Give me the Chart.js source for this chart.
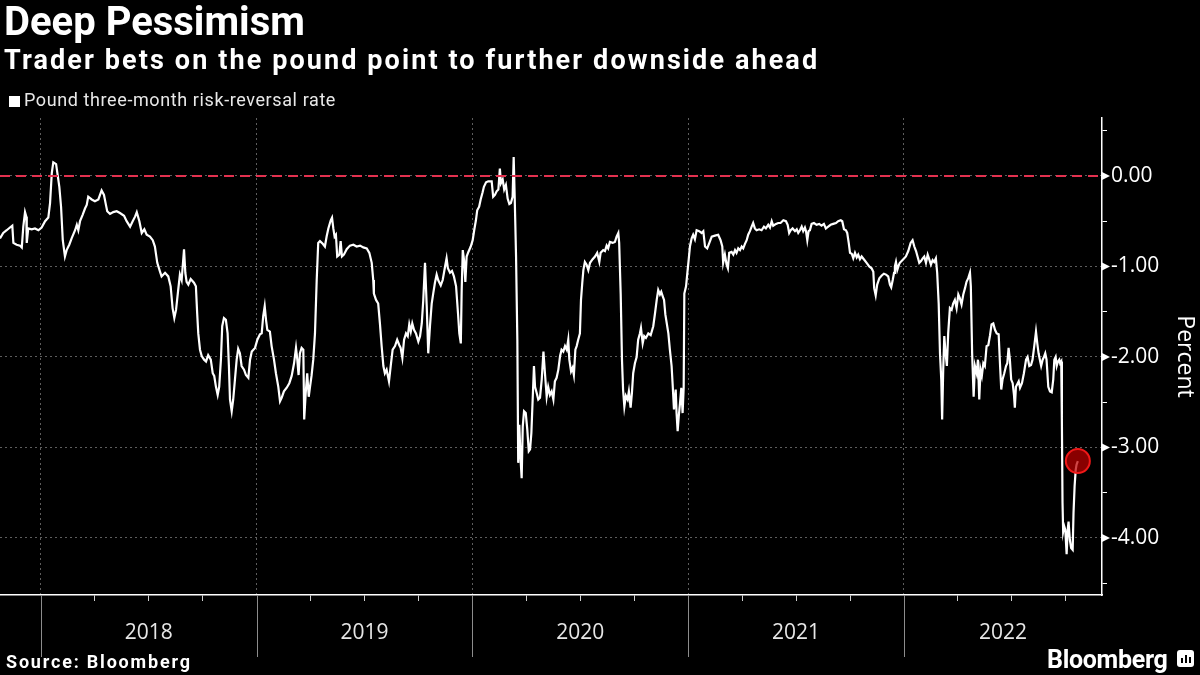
<!DOCTYPE html>
<html>
<head>
<meta charset="utf-8">
<script src="https://cdn.jsdelivr.net/npm/chart.js@4.4.1/dist/chart.umd.min.js"></script>
<style>
  html, body { margin: 0; padding: 0; background: #000; }
  #wrap { position: relative; width: 1200px; height: 675px; overflow: hidden; background: #000; font-family: Roboto, "Open Sans", sans-serif; color: #fff; }
  #chart { position: absolute; left: 0; top: 0; }
  .txt { position: absolute; white-space: nowrap; }
  #title { left: 4px; top: 2px; font-size: 40px; line-height: 40px; font-weight: 700; }
  #subtitle { left: 4px; top: 47px; font-size: 27px; line-height: 27px; font-weight: 700; letter-spacing: 2.1px; }
  #legend { left: 9px; top: 91px; font-size: 18px; line-height: 18px; color: #e8e8e8; letter-spacing: 0.6px; }
  #legend span.sw { display: inline-block; width: 11px; height: 11px; background: #fff; margin-right: 4px; vertical-align: -1px; }
  #source { left: 6px; top: 653px; font-size: 18px; line-height: 18px; font-weight: 700; letter-spacing: 1.8px; }
  #brand { left: 1047px; top: 647px; font-size: 25px; line-height: 25px; font-weight: 700; letter-spacing: -0.3px; }
  #icon { position: absolute; left: 1177px; top: 650px; width: 17px; height: 17px; background: #fff; border-radius: 3px; }
  #icon i { position: absolute; bottom: 4px; width: 2px; background: #000; }
</style>
</head>
<body>
<div id="wrap">
  <canvas id="chart" width="1200" height="675"></canvas>
  <div class="txt" id="title">Deep Pessimism</div>
  <div class="txt" id="subtitle">Trader bets on the pound point to further downside ahead</div>
  <div class="txt" id="legend"><span class="sw"></span>Pound three-month risk-reversal rate</div>
  <div class="txt" id="source">Source: Bloomberg</div>
  <div class="txt" id="brand">Bloomberg</div>
  <div id="icon"><i style="left:4px;height:5px"></i><i style="left:8px;height:8px"></i><i style="left:12px;height:6px"></i></div>
</div>
<script>
// time as decimal years, values in percent
const years = [
  2017.810, 2017.825, 2017.841, 2017.856, 2017.867, 2017.872, 2017.887, 2017.903, 2017.911, 2017.918,
  2017.926, 2017.932, 2017.934, 2017.941, 2017.957, 2017.972, 2017.988, 2018.003, 2018.019, 2018.034,
  2018.042, 2018.050, 2018.057, 2018.070, 2018.076, 2018.085, 2018.093, 2018.101, 2018.111, 2018.119,
  2018.131, 2018.142, 2018.158, 2018.166, 2018.173, 2018.181, 2018.193, 2018.204, 2018.212, 2018.219,
  2018.235, 2018.250, 2018.266, 2018.281, 2018.292, 2018.301, 2018.307, 2018.320, 2018.335, 2018.351,
  2018.366, 2018.385, 2018.397, 2018.413, 2018.425, 2018.436, 2018.444, 2018.456, 2018.467, 2018.479,
  2018.490, 2018.505, 2018.518, 2018.528, 2018.539, 2018.552, 2018.559, 2018.575, 2018.590, 2018.601,
  2018.610, 2018.618, 2018.626, 2018.636, 2018.644, 2018.652, 2018.663, 2018.669, 2018.675, 2018.683,
  2018.694, 2018.709, 2018.718, 2018.724, 2018.729, 2018.737, 2018.745, 2018.756, 2018.765, 2018.775,
  2018.787, 2018.796, 2018.803, 2018.811, 2018.819, 2018.826, 2018.834, 2018.840, 2018.848, 2018.857,
  2018.865, 2018.871, 2018.876, 2018.884, 2018.891, 2018.899, 2018.907, 2018.914, 2018.922, 2018.930,
  2018.941, 2018.950, 2018.961, 2018.969, 2018.977, 2018.992, 2019.003, 2019.015, 2019.023, 2019.030,
  2019.037, 2019.043, 2019.049, 2019.061, 2019.069, 2019.080, 2019.089, 2019.100, 2019.108, 2019.116,
  2019.126, 2019.139, 2019.151, 2019.162, 2019.173, 2019.182, 2019.188, 2019.194, 2019.200, 2019.208,
  2019.216, 2019.220, 2019.227, 2019.234, 2019.241, 2019.247, 2019.254, 2019.262, 2019.270, 2019.278,
  2019.285, 2019.293, 2019.306, 2019.316, 2019.324, 2019.332, 2019.343, 2019.349, 2019.355, 2019.361,
  2019.367, 2019.373, 2019.383, 2019.389, 2019.395, 2019.404, 2019.417, 2019.432, 2019.448, 2019.463,
  2019.479, 2019.494, 2019.510, 2019.522, 2019.533, 2019.540, 2019.543, 2019.553, 2019.563, 2019.571,
  2019.579, 2019.587, 2019.594, 2019.602, 2019.613, 2019.621, 2019.630, 2019.641, 2019.651, 2019.661,
  2019.667, 2019.675, 2019.683, 2019.692, 2019.700, 2019.707, 2019.714, 2019.721, 2019.729, 2019.738,
  2019.749, 2019.757, 2019.765, 2019.772, 2019.780, 2019.788, 2019.795, 2019.803, 2019.811, 2019.818,
  2019.826, 2019.834, 2019.841, 2019.853, 2019.862, 2019.873, 2019.880, 2019.886, 2019.896, 2019.905,
  2019.914, 2019.924, 2019.933, 2019.939, 2019.946, 2019.950, 2019.955, 2019.961, 2019.967, 2019.973,
  2019.981, 2019.992, 2020.001, 2020.008, 2020.016, 2020.022, 2020.031, 2020.038, 2020.047, 2020.053,
  2020.063, 2020.073, 2020.089, 2020.096, 2020.104, 2020.112, 2020.120, 2020.127, 2020.132, 2020.140,
  2020.147, 2020.155, 2020.163, 2020.171, 2020.178, 2020.186, 2020.191, 2020.196, 2020.202, 2020.208,
  2020.212, 2020.217, 2020.223, 2020.228, 2020.233, 2020.239, 2020.247, 2020.254, 2020.261, 2020.267,
  2020.273, 2020.279, 2020.285, 2020.290, 2020.298, 2020.305, 2020.313, 2020.321, 2020.329, 2020.336,
  2020.344, 2020.351, 2020.359, 2020.367, 2020.375, 2020.382, 2020.390, 2020.398, 2020.406, 2020.413,
  2020.421, 2020.429, 2020.437, 2020.444, 2020.449, 2020.457, 2020.464, 2020.470, 2020.477, 2020.483,
  2020.490, 2020.498, 2020.503, 2020.509, 2020.514, 2020.521, 2020.529, 2020.537, 2020.545, 2020.557,
  2020.568, 2020.578, 2020.588, 2020.594, 2020.606, 2020.614, 2020.622, 2020.629, 2020.637, 2020.650,
  2020.660, 2020.668, 2020.676, 2020.680, 2020.687, 2020.693, 2020.698, 2020.704, 2020.711, 2020.719,
  2020.725, 2020.733, 2020.739, 2020.745, 2020.753, 2020.761, 2020.768, 2020.776, 2020.781, 2020.789,
  2020.796, 2020.804, 2020.815, 2020.826, 2020.838, 2020.846, 2020.854, 2020.861, 2020.869, 2020.875,
  2020.882, 2020.888, 2020.894, 2020.908, 2020.915, 2020.923, 2020.928, 2020.934, 2020.942, 2020.946,
  2020.951, 2020.956, 2020.962, 2020.968, 2020.974, 2020.979, 2020.982, 2020.990, 2020.996, 2021.002,
  2021.008, 2021.016, 2021.023, 2021.031, 2021.039, 2021.051, 2021.062, 2021.070, 2021.078, 2021.088,
  2021.098, 2021.109, 2021.124, 2021.139, 2021.150, 2021.158, 2021.162, 2021.170, 2021.178, 2021.184,
  2021.190, 2021.201, 2021.209, 2021.217, 2021.224, 2021.232, 2021.240, 2021.248, 2021.255, 2021.263,
  2021.271, 2021.278, 2021.286, 2021.294, 2021.301, 2021.309, 2021.317, 2021.329, 2021.340, 2021.351,
  2021.360, 2021.371, 2021.379, 2021.387, 2021.394, 2021.407, 2021.417, 2021.428, 2021.441, 2021.453,
  2021.461, 2021.468, 2021.475, 2021.484, 2021.495, 2021.503, 2021.510, 2021.518, 2021.526, 2021.533,
  2021.541, 2021.546, 2021.552, 2021.558, 2021.564, 2021.572, 2021.583, 2021.595, 2021.607, 2021.618,
  2021.629, 2021.638, 2021.649, 2021.660, 2021.672, 2021.685, 2021.695, 2021.707, 2021.714, 2021.722,
  2021.731, 2021.737, 2021.744, 2021.750, 2021.758, 2021.765, 2021.773, 2021.781, 2021.788, 2021.796,
  2021.804, 2021.814, 2021.827, 2021.839, 2021.850, 2021.858, 2021.862, 2021.869, 2021.876, 2021.886,
  2021.897, 2021.907, 2021.917, 2021.927, 2021.935, 2021.941, 2021.948, 2021.954, 2021.958, 2021.963,
  2021.969, 2021.977, 2021.981, 2021.997, 2022.009, 2022.020, 2022.031, 2022.040, 2022.048, 2022.056,
  2022.063, 2022.071, 2022.079, 2022.087, 2022.094, 2022.102, 2022.110, 2022.117, 2022.125, 2022.133,
  2022.140, 2022.148, 2022.154, 2022.161, 2022.167, 2022.173, 2022.177, 2022.182, 2022.187, 2022.193,
  2022.199, 2022.205, 2022.213, 2022.221, 2022.228, 2022.236, 2022.244, 2022.252, 2022.259, 2022.267,
  2022.275, 2022.283, 2022.290, 2022.298, 2022.306, 2022.310, 2022.316, 2022.323, 2022.329, 2022.337,
  2022.343, 2022.349, 2022.355, 2022.361, 2022.368, 2022.375, 2022.383, 2022.391, 2022.399, 2022.406,
  2022.414, 2022.422, 2022.430, 2022.439, 2022.445, 2022.451, 2022.457, 2022.465, 2022.473, 2022.479,
  2022.485, 2022.491, 2022.497, 2022.504, 2022.510, 2022.514, 2022.519, 2022.532, 2022.538, 2022.547,
  2022.556, 2022.566, 2022.573, 2022.581, 2022.589, 2022.596, 2022.604, 2022.612, 2022.618, 2022.624,
  2022.630, 2022.636, 2022.643, 2022.649, 2022.655, 2022.661, 2022.669, 2022.677, 2022.685, 2022.692,
  2022.697, 2022.703, 2022.708, 2022.714, 2022.720, 2022.724, 2022.729, 2022.732, 2022.735, 2022.738,
  2022.743, 2022.748, 2022.754, 2022.759, 2022.763, 2022.769, 2022.775, 2022.782, 2022.786, 2022.791,
  2022.796, 2022.800, 2022.806
];

const riskReversal = [
  -0.69, -0.63, -0.60, -0.57, -0.55, -0.74, -0.76, -0.77, -0.79, -0.56,
  -0.40, -0.45, -0.74, -0.58, -0.59, -0.58, -0.60, -0.57, -0.50, -0.46,
  -0.30, 0.03, 0.15, 0.13, 0.03, -0.12, -0.34, -0.71, -0.89, -0.82,
  -0.76, -0.69, -0.60, -0.54, -0.60, -0.50, -0.43, -0.36, -0.32, -0.23,
  -0.26, -0.28, -0.26, -0.16, -0.21, -0.32, -0.39, -0.42, -0.40, -0.39,
  -0.41, -0.44, -0.50, -0.56, -0.50, -0.45, -0.40, -0.50, -0.63, -0.59,
  -0.65, -0.67, -0.71, -0.78, -0.96, -1.06, -1.11, -1.07, -1.11, -1.22,
  -1.46, -1.57, -1.48, -1.26, -1.09, -1.15, -0.81, -1.07, -1.17, -1.20,
  -1.14, -1.18, -1.22, -1.52, -1.74, -1.92, -1.99, -2.03, -2.05, -1.98,
  -2.03, -2.18, -2.21, -2.33, -2.42, -2.33, -2.03, -1.66, -1.57, -1.59,
  -1.74, -2.10, -2.47, -2.60, -2.47, -2.25, -2.03, -1.91, -1.96, -2.10,
  -2.14, -2.20, -2.23, -2.03, -1.94, -1.90, -1.81, -1.75, -1.74, -1.55,
  -1.44, -1.59, -1.70, -1.72, -1.88, -2.03, -2.18, -2.33, -2.49, -2.45,
  -2.38, -2.34, -2.29, -2.21, -2.07, -1.90, -2.03, -2.20, -1.96, -1.90,
  -1.92, -2.69, -2.40, -2.18, -2.44, -2.33, -2.21, -2.03, -1.74, -1.15,
  -0.74, -0.72, -0.75, -0.78, -0.67, -0.58, -0.49, -0.46, -0.58, -0.67,
  -0.65, -0.89, -0.87, -0.72, -0.89, -0.87, -0.81, -0.77, -0.76, -0.78,
  -0.77, -0.79, -0.80, -0.85, -0.96, -1.15, -1.30, -1.37, -1.41, -1.63,
  -1.88, -2.10, -2.18, -2.14, -2.27, -2.10, -1.92, -1.88, -1.81, -1.87,
  -1.90, -2.01, -1.81, -1.74, -1.77, -1.64, -1.72, -1.63, -1.70, -1.74,
  -1.83, -1.77, -1.63, -1.37, -0.96, -1.44, -1.96, -1.66, -1.41, -1.30,
  -1.18, -1.09, -1.15, -1.21, -1.15, -1.00, -0.91, -1.02, -1.07, -1.05,
  -1.11, -1.22, -1.52, -1.74, -1.85, -1.26, -0.82, -0.93, -1.17, -0.89,
  -0.84, -0.78, -0.71, -0.60, -0.49, -0.38, -0.34, -0.26, -0.18, -0.12,
  -0.07, -0.06, -0.06, -0.23, -0.21, -0.17, -0.15, 0.08, -0.08, -0.04,
  -0.15, -0.10, -0.25, -0.31, -0.30, -0.23, 0.21, -0.26, -0.89, -1.81,
  -3.17, -2.75, -3.13, -3.34, -2.77, -2.60, -2.62, -2.80, -3.04, -3.02,
  -2.84, -2.47, -2.10, -2.33, -2.40, -2.47, -2.45, -2.25, -1.94, -2.18,
  -2.44, -2.33, -2.42, -2.38, -2.47, -2.27, -2.23, -2.14, -1.99, -1.92,
  -1.94, -1.88, -1.92, -1.81, -2.03, -2.16, -2.12, -2.20, -1.92, -1.88,
  -1.81, -1.74, -1.37, -1.18, -1.04, -0.95, -0.98, -1.04, -0.96, -0.92,
  -0.89, -0.85, -0.95, -0.85, -0.82, -0.83, -0.77, -0.80, -0.73, -0.74,
  -0.73, -0.67, -0.63, -0.74, -1.30, -2.03, -2.36, -2.55, -2.43, -2.47,
  -2.38, -2.56, -2.40, -2.18, -2.07, -2.00, -1.81, -1.74, -1.68, -1.85,
  -1.77, -1.79, -1.74, -1.76, -1.66, -1.52, -1.37, -1.26, -1.31, -1.28,
  -1.33, -1.37, -1.53, -1.74, -1.92, -2.10, -2.31, -2.58, -2.36, -2.62,
  -2.82, -2.66, -2.51, -2.34, -2.62, -2.34, -1.30, -1.22, -1.07, -0.93,
  -0.78, -0.69, -0.65, -0.70, -0.60, -0.61, -0.63, -0.61, -0.78, -0.80,
  -0.74, -0.67, -0.66, -0.65, -0.71, -0.78, -0.96, -0.87, -0.98, -1.02,
  -0.85, -0.84, -0.87, -0.82, -0.85, -0.80, -0.82, -0.78, -0.80, -0.75,
  -0.71, -0.65, -0.61, -0.56, -0.52, -0.58, -0.60, -0.59, -0.60, -0.56,
  -0.58, -0.54, -0.57, -0.50, -0.55, -0.53, -0.52, -0.52, -0.49, -0.50,
  -0.54, -0.63, -0.60, -0.58, -0.61, -0.59, -0.63, -0.60, -0.56, -0.61,
  -0.57, -0.61, -0.71, -0.61, -0.60, -0.53, -0.52, -0.54, -0.53, -0.55,
  -0.53, -0.58, -0.56, -0.54, -0.53, -0.52, -0.50, -0.49, -0.50, -0.59,
  -0.60, -0.63, -0.74, -0.85, -0.86, -0.91, -0.85, -0.90, -0.87, -0.92,
  -0.89, -0.92, -0.96, -1.00, -1.02, -1.06, -1.24, -1.32, -1.20, -1.13,
  -1.10, -1.08, -1.09, -1.11, -1.20, -1.23, -1.15, -1.07, -1.00, -0.95,
  -1.04, -0.98, -0.96, -0.92, -0.89, -0.83, -0.74, -0.71, -0.78, -0.83,
  -0.89, -0.96, -0.94, -0.91, -0.89, -0.96, -0.87, -0.92, -0.98, -0.93,
  -0.95, -0.91, -1.07, -1.41, -1.96, -2.25, -2.69, -2.14, -1.77, -1.96,
  -2.10, -1.74, -1.46, -1.48, -1.41, -1.37, -1.46, -1.31, -1.35, -1.42,
  -1.31, -1.24, -1.17, -1.13, -1.07, -1.22, -1.96, -2.44, -2.10, -2.18,
  -2.03, -2.47, -2.14, -2.21, -2.07, -2.10, -1.88, -1.87, -1.76, -1.64,
  -1.63, -1.70, -1.74, -1.75, -2.07, -2.36, -2.25, -2.18, -2.10, -2.07,
  -1.90, -2.03, -2.25, -2.29, -2.42, -2.56, -2.33, -2.27, -2.34, -2.29,
  -2.18, -2.03, -2.00, -2.10, -2.09, -2.03, -1.88, -1.72, -1.85, -1.96,
  -2.03, -2.10, -2.03, -2.00, -1.96, -2.03, -2.33, -2.38, -2.39, -2.25,
  -2.03, -2.00, -2.10, -2.05, -2.03, -2.07, -2.05, -2.69, -3.61, -3.93,
  -3.87, -3.91, -4.18, -3.91, -3.82, -4.02, -4.11, -4.13, -3.72, -3.43,
  -3.25, -3.19, -3.15
];

const yearStarts = [2018, 2019, 2020, 2021, 2022];
const yearLabels = ['2018', '2019', '2020', '2021', '2022'];
const yTickValues = [-4.5, -4, -3.5, -3, -2.5, -2, -1.5, -1, -0.5, 0, 0.5];
const xMin = 2017.81, xMax = 2022.918;
const yMin = -4.63, yMax = 0.64;

const quarterTicks = [];
yearStarts.forEach(y => [0, 0.25, 0.5, 0.75].forEach(q => { if (y + q <= xMax) quarterTicks.push(y + q); }));

const series = years.map((x, i) => ({ x: x, y: riskReversal[i] }));
const last = series[series.length - 1];

// long year separators, centred year labels, pointer marks on the value axis
const axisExtras = {
  id: 'axisExtras',
  afterDraw(chart) {
    const { ctx, chartArea, scales: { x, y } } = chart;
    ctx.save();
    ctx.strokeStyle = '#8c8c8c';
    ctx.lineWidth = 1;
    yearStarts.forEach(yr => {
      const px = Math.round(x.getPixelForValue(yr)) + 0.5;
      ctx.beginPath();
      ctx.moveTo(px, chartArea.bottom);
      ctx.lineTo(px, chartArea.bottom + 62);
      ctx.stroke();
    });
    ctx.fillStyle = '#e6e6e6';
    ctx.font = '21px "Open Sans", Roboto, sans-serif';
    ctx.textAlign = 'center';
    ctx.textBaseline = 'middle';
    yearLabels.forEach((lab, i) => {
      const a = Math.max(x.getPixelForValue(yearStarts[i]), chartArea.left);
      const b = Math.min(x.getPixelForValue(yearStarts[i] + 1), chartArea.right);
      ctx.fillText(lab, (a + b) / 2, chartArea.bottom + 38);
    });
    ctx.fillStyle = '#fff';
    yTickValues.filter(v => Number.isInteger(v)).forEach(v => {
      const py = y.getPixelForValue(v);
      ctx.beginPath();
      ctx.moveTo(chartArea.right, py - 4);
      ctx.lineTo(chartArea.right + 8, py);
      ctx.lineTo(chartArea.right, py + 4);
      ctx.closePath();
      ctx.fill();
    });
    ctx.restore();
  }
};

new Chart(document.getElementById('chart'), {
  type: 'line',
  data: {
    datasets: [
      {
        data: [last],
        showLine: false,
        pointRadius: 12,
        pointBackgroundColor: 'rgba(190, 0, 0, 0.72)',
        pointBorderColor: '#f01818',
        pointBorderWidth: 2,
        order: 0
      },
      {
        data: [{ x: xMin, y: 0 }, { x: xMax, y: 0 }],
        borderColor: '#e3314f',
        borderWidth: 2,
        borderDash: [10, 6],
        pointRadius: 0,
        order: 1
      },
      {
        data: series,
        borderColor: '#ffffff',
        borderWidth: 2.2,
        pointRadius: 0,
        tension: 0,
        order: 2
      }
    ]
  },
  options: {
    responsive: false,
    animation: false,
    layout: { autoPadding: false, padding: { top: 118, left: 0, right: 0, bottom: 0 } },
    plugins: { legend: { display: false }, tooltip: { enabled: false } },
    scales: {
      x: {
        type: 'linear',
        min: xMin,
        max: xMax,
        afterBuildTicks: s => { s.ticks = quarterTicks.map(v => ({ value: v })); },
        afterFit: s => { s.height = 80; },
        ticks: { display: false },
        grid: {
          color: c => Number.isInteger(c.tick.value) ? '#5e5e5e' : 'rgba(0,0,0,0)',
          tickColor: c => Number.isInteger(c.tick.value) ? 'rgba(0,0,0,0)' : '#d0d0d0',
          tickLength: 6,
          lineWidth: 1
        },
        border: { color: '#ffffff', width: 1.5, dash: [2, 3] }
      },
      y: {
        position: 'right',
        min: yMin,
        max: yMax,
        afterBuildTicks: s => { s.ticks = yTickValues.map(v => ({ value: v })); },
        afterFit: s => { s.width = 98; },
        ticks: {
          color: '#ffffff',
          font: { family: '"Open Sans", Roboto, sans-serif', size: 21 },
          padding: 4,
          callback: v => Number.isInteger(v) ? v.toFixed(2) : ''
        },
        grid: {
          color: c => Number.isInteger(c.tick.value) ? '#5e5e5e' : 'rgba(0,0,0,0)',
          tickColor: '#ffffff',
          tickLength: 5,
          lineWidth: 1
        },
        border: { color: '#ffffff', width: 1.5, dash: [2, 3] },
        title: {
          display: true,
          text: 'Percent',
          color: '#ffffff',
          font: { family: '"Open Sans", Roboto, sans-serif', size: 23 },
          padding: { top: 2, bottom: 0 }
        }
      }
    }
  },
  plugins: [axisExtras]
});
</script>
</body>
</html>
